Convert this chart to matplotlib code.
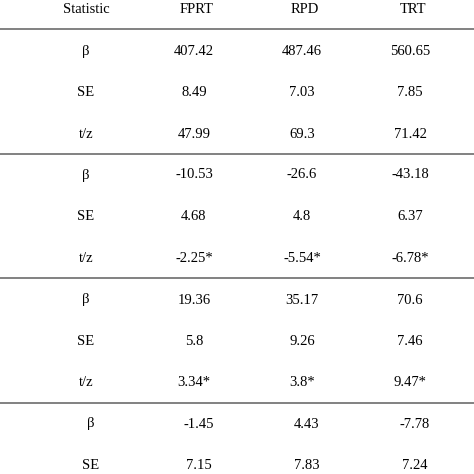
import matplotlib
matplotlib.use("Agg")
import matplotlib.pyplot as plt

plt.rcParams['font.family'] = ['Liberation Serif', 'DejaVu Serif']

header = ["Statistic", "FPRT", "RPD", "TRT"]
stats = ["β", "SE", "t/z"]
block1 = [["407.42", "487.46", "560.65"], ["8.49", "7.03", "7.85"], ["47.99", "69.3", "71.42"]]
block2 = [["-10.53", "-26.6", "-43.18"], ["4.68", "4.8", "6.37"], ["-2.25*", "-5.54*", "-6.78*"]]
block3 = [["19.36", "35.17", "70.6"], ["5.8", "9.26", "7.46"], ["3.34*", "3.8*", "9.47*"]]
block4 = [["-1.45", "4.43", "-7.78"], ["7.15", "7.83", "7.24"]]
blocks = [block1, block2, block3, block4]

fig = plt.figure(figsize=(4.74, 4.74), dpi=100)
ax = fig.add_axes([0, 0, 1, 1])
ax.set_xlim(0, 474)
ax.set_ylim(474, 0)
ax.axis("off")

fs = 10.5
col_x = [86, 197, 305, 413]
for x, h in zip(col_x, header):
    ax.text(x, 9, h, ha="center", va="center", fontsize=fs)

line_y = [29, 154, 278, 403]
block_top = [51, 175, 300, 424]
row_gap = 41.5
for i, blk in enumerate(blocks):
    ax.axhline(line_y[i], color="#777777", lw=1.3)
    shift = 5 if i == 3 else 0
    for r, row in enumerate(blk):
        y = block_top[i] + r * row_gap
        ax.text(col_x[0] + shift, y, stats[r], ha="center", va="center", fontsize=fs)
        for c, v in enumerate(row):
            ax.text(col_x[c + 1] - 3 + shift, y, v, ha="center", va="center", fontsize=fs)

fig.savefig("out.png", dpi=100)
